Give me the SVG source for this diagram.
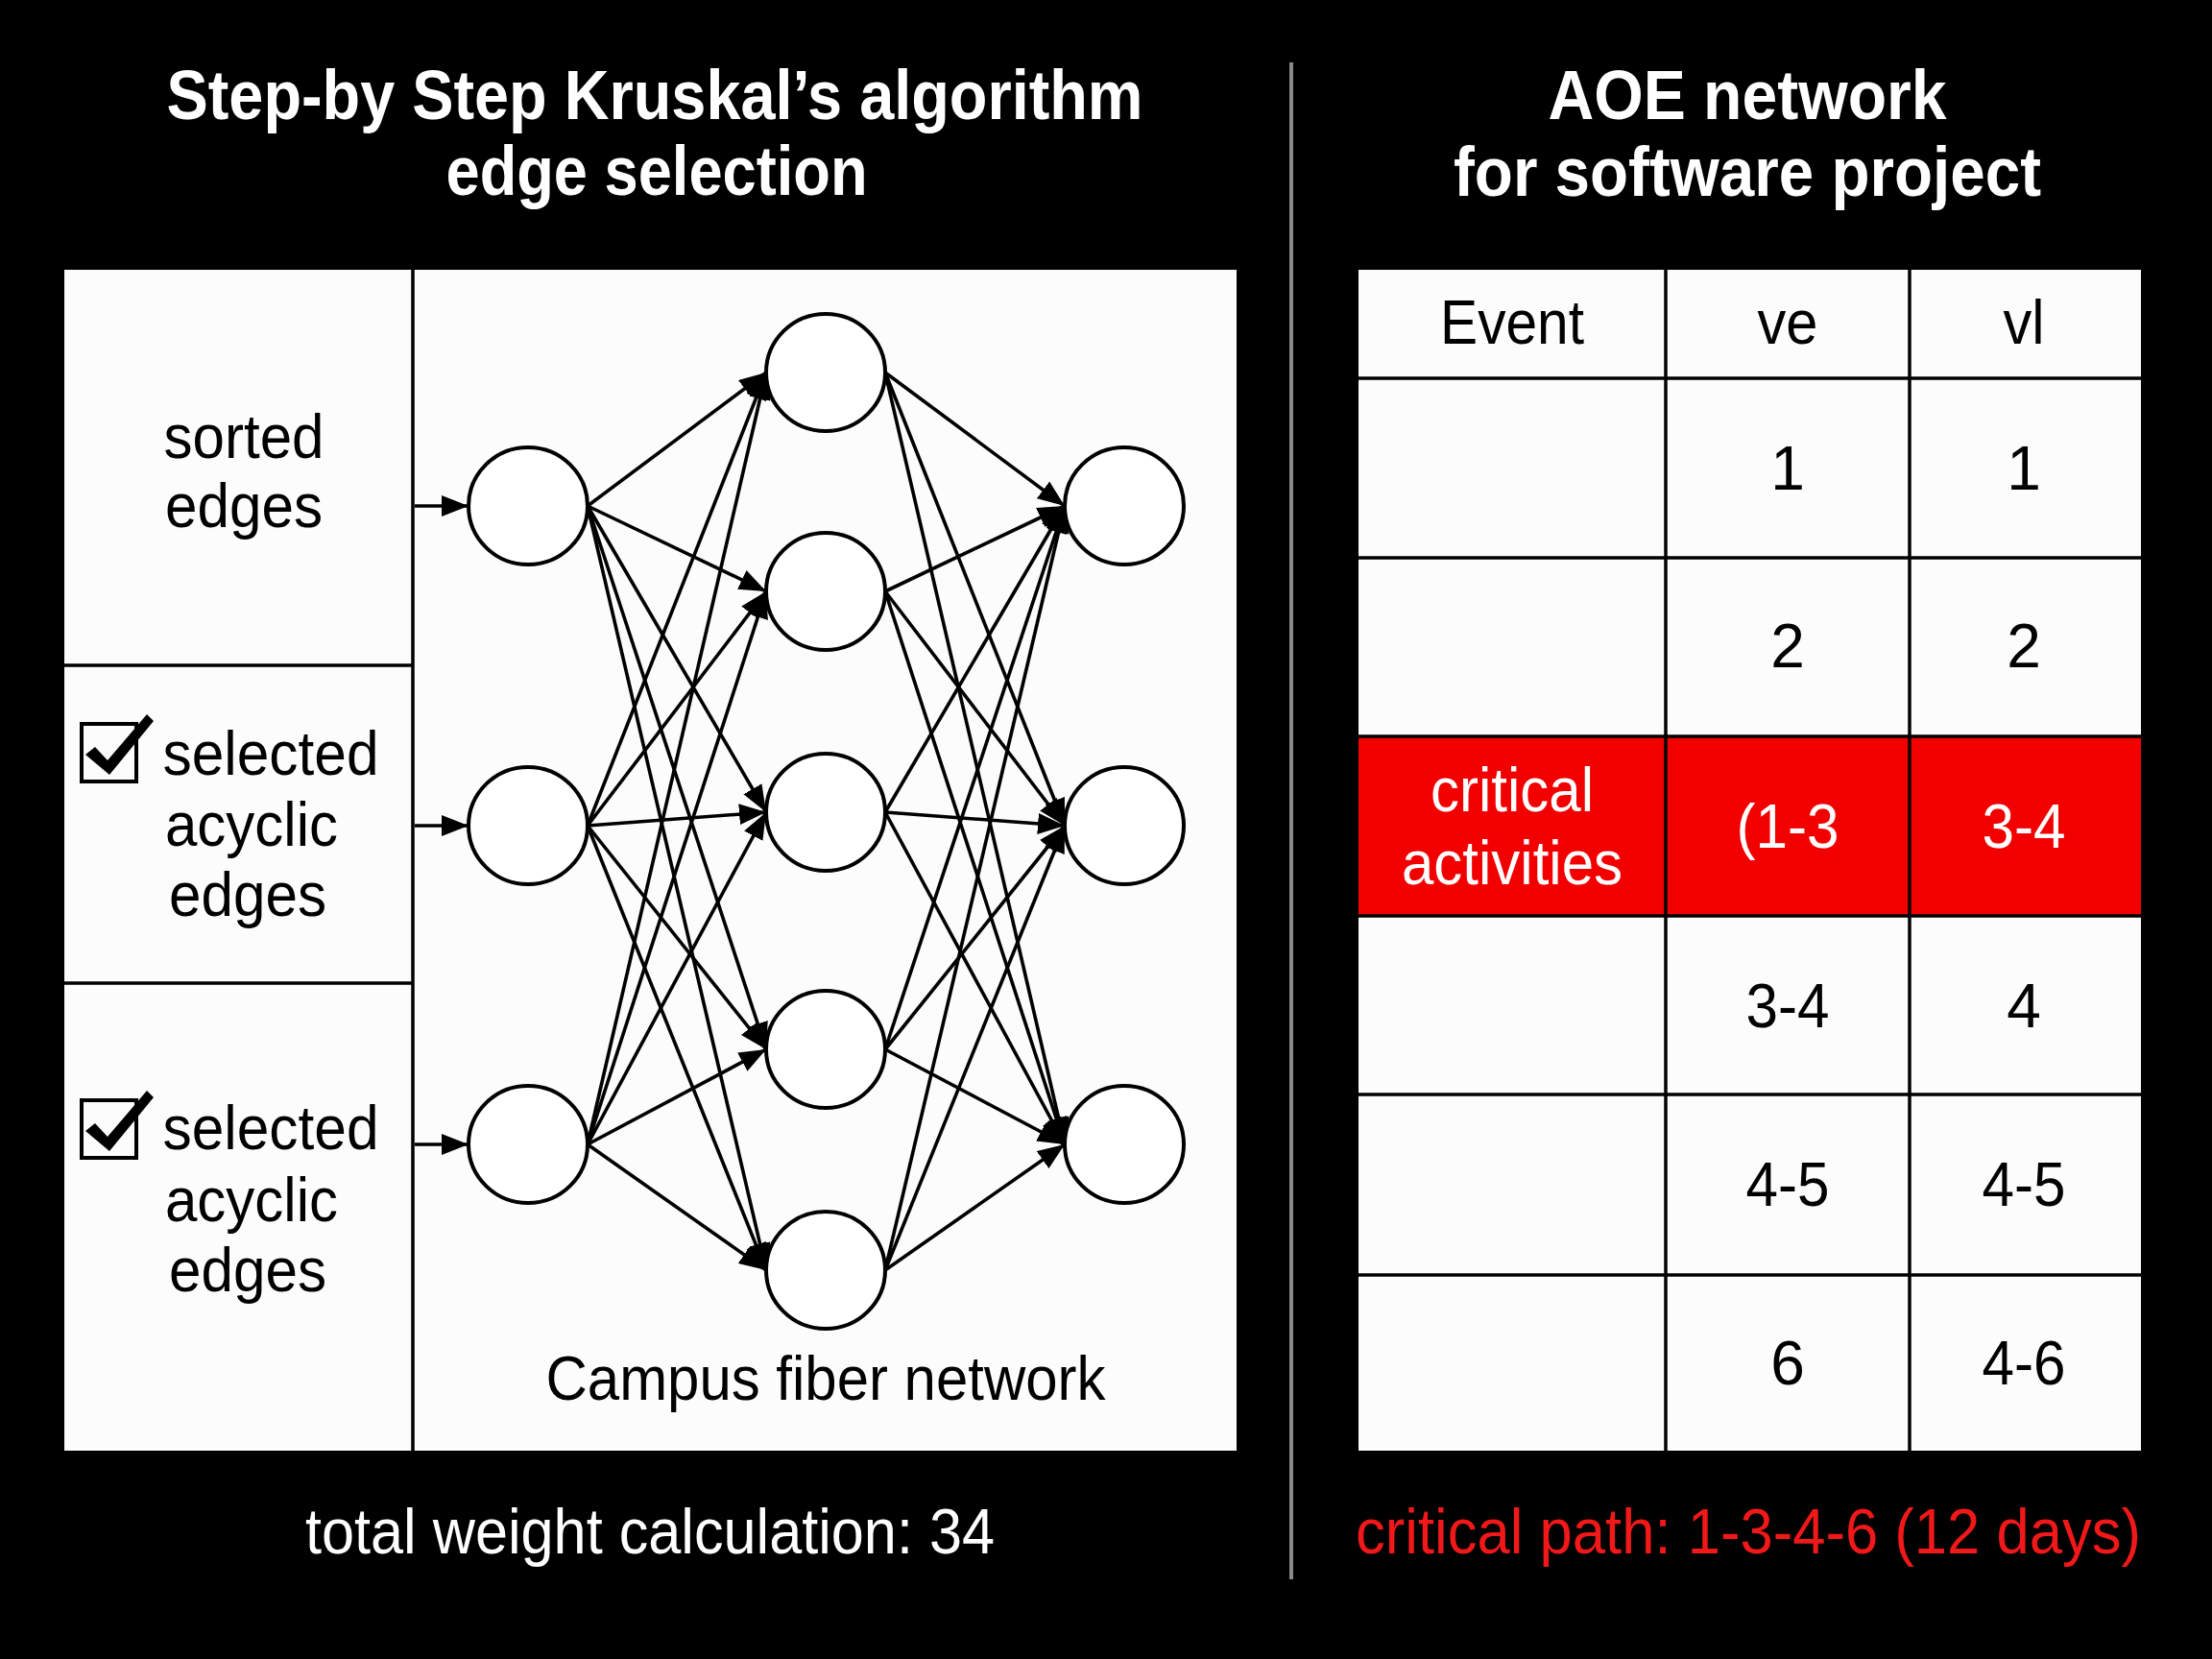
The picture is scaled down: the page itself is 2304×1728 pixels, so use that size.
<svg xmlns="http://www.w3.org/2000/svg" width="2304" height="1728" viewBox="0 0 2304 1728">
<defs>
<style>
.t{font-family:"Liberation Sans",Arial,Helvetica,sans-serif;font-size:64px;fill:#000;text-anchor:middle}
.title{font-weight:bold;font-size:72px;fill:#fff}
.wt{fill:#fff}
.bot{font-size:66px}
.rd{fill:#f01818}
.grid{stroke:#000;stroke-width:3.5;fill:none}
.node{fill:#fff;stroke:#000;stroke-width:4}
.edge{stroke:#000;stroke-width:3.6;fill:none;marker-end:url(#arr)}
</style>
<marker id="arr" markerUnits="userSpaceOnUse" markerWidth="28" markerHeight="22" refX="28" refY="11" orient="auto" viewBox="0 0 28 22">
<path d="M0,0 L28,11 L0,22 Z" fill="#000"/>
</marker>
</defs>
<rect x="0" y="0" width="2304" height="1728" fill="#000"/>

<g id="titles">
<text class="t title" x="682" y="124" textLength="1017" lengthAdjust="spacingAndGlyphs">Step-by Step Kruskal’s algorithm</text>
<text class="t title" x="684" y="203" textLength="439" lengthAdjust="spacingAndGlyphs">edge selection</text>
<text class="t title" x="1820" y="124" textLength="415" lengthAdjust="spacingAndGlyphs">AOE network</text>
<text class="t title" x="1820" y="204" textLength="612" lengthAdjust="spacingAndGlyphs">for software project</text>
</g>

<line id="divider" x1="1345" y1="65" x2="1345" y2="1645" stroke="#8a8a8a" stroke-width="4"/>

<g id="left-panel">
<rect x="67" y="281" width="1221" height="1230" fill="#fcfcfc"/>
<line class="grid" x1="430" y1="281" x2="430" y2="1511"/>
<line class="grid" x1="67" y1="693" x2="430" y2="693"/>
<line class="grid" x1="67" y1="1024" x2="430" y2="1024"/>
</g>

<g id="label-sorted">
<text class="t" x="254" y="477" textLength="167" lengthAdjust="spacingAndGlyphs">sorted</text>
<text class="t" x="254" y="549" textLength="164" lengthAdjust="spacingAndGlyphs">edges</text>
</g>

<g id="label-selected-1">
<rect x="85" y="754" width="57" height="60" fill="none" stroke="#000" stroke-width="4"/>
<path d="M89 786 L99 778 L112 792 L153 744 L160 751 L114 807 Z" fill="#000"/>
<text class="t" x="282" y="807" textLength="225" lengthAdjust="spacingAndGlyphs">selected</text>
<text class="t" x="262" y="881" textLength="180" lengthAdjust="spacingAndGlyphs">acyclic</text>
<text class="t" x="258" y="954" textLength="164" lengthAdjust="spacingAndGlyphs">edges</text>
</g>

<g id="label-selected-2">
<rect x="85" y="1146" width="57" height="60" fill="none" stroke="#000" stroke-width="4"/>
<path d="M89 1178 L99 1170 L112 1184 L153 1136 L160 1143 L114 1199 Z" fill="#000"/>
<text class="t" x="282" y="1197" textLength="225" lengthAdjust="spacingAndGlyphs">selected</text>
<text class="t" x="262" y="1272" textLength="180" lengthAdjust="spacingAndGlyphs">acyclic</text>
<text class="t" x="258" y="1345" textLength="164" lengthAdjust="spacingAndGlyphs">edges</text>
</g>

<g id="connectors">
<line class="edge" x1="432" y1="527" x2="488" y2="527"/>
<line class="edge" x1="432" y1="860" x2="488" y2="860"/>
<line class="edge" x1="432" y1="1192" x2="488" y2="1192"/>

<line class="edge" x1="612" y1="527" x2="798" y2="388"/>
<line class="edge" x1="612" y1="527" x2="798" y2="616"/>
<line class="edge" x1="612" y1="527" x2="798" y2="846"/>
<line class="edge" x1="612" y1="527" x2="798" y2="1093"/>
<line class="edge" x1="612" y1="527" x2="798" y2="1323"/>
<line class="edge" x1="612" y1="860" x2="798" y2="388"/>
<line class="edge" x1="612" y1="860" x2="798" y2="616"/>
<line class="edge" x1="612" y1="860" x2="798" y2="846"/>
<line class="edge" x1="612" y1="860" x2="798" y2="1093"/>
<line class="edge" x1="612" y1="860" x2="798" y2="1323"/>
<line class="edge" x1="612" y1="1192" x2="798" y2="388"/>
<line class="edge" x1="612" y1="1192" x2="798" y2="616"/>
<line class="edge" x1="612" y1="1192" x2="798" y2="846"/>
<line class="edge" x1="612" y1="1192" x2="798" y2="1093"/>
<line class="edge" x1="612" y1="1192" x2="798" y2="1323"/>

<line class="edge" x1="922" y1="388" x2="1109" y2="527"/>
<line class="edge" x1="922" y1="388" x2="1109" y2="860"/>
<line class="edge" x1="922" y1="388" x2="1109" y2="1192"/>
<line class="edge" x1="922" y1="616" x2="1109" y2="527"/>
<line class="edge" x1="922" y1="616" x2="1109" y2="860"/>
<line class="edge" x1="922" y1="616" x2="1109" y2="1192"/>
<line class="edge" x1="922" y1="846" x2="1109" y2="527"/>
<line class="edge" x1="922" y1="846" x2="1109" y2="860"/>
<line class="edge" x1="922" y1="846" x2="1109" y2="1192"/>
<line class="edge" x1="922" y1="1093" x2="1109" y2="527"/>
<line class="edge" x1="922" y1="1093" x2="1109" y2="860"/>
<line class="edge" x1="922" y1="1093" x2="1109" y2="1192"/>
<line class="edge" x1="922" y1="1323" x2="1109" y2="527"/>
<line class="edge" x1="922" y1="1323" x2="1109" y2="860"/>
<line class="edge" x1="922" y1="1323" x2="1109" y2="1192"/>
</g>

<g id="n1-1"><ellipse class="node" cx="550" cy="527" rx="62" ry="61"/></g>
<g id="n1-2"><ellipse class="node" cx="550" cy="860" rx="62" ry="61"/></g>
<g id="n1-3"><ellipse class="node" cx="550" cy="1192" rx="62" ry="61"/></g>
<g id="n2-1"><ellipse class="node" cx="860" cy="388" rx="62" ry="61"/></g>
<g id="n2-2"><ellipse class="node" cx="860" cy="616" rx="62" ry="61"/></g>
<g id="n2-3"><ellipse class="node" cx="860" cy="846" rx="62" ry="61"/></g>
<g id="n2-4"><ellipse class="node" cx="860" cy="1093" rx="62" ry="61"/></g>
<g id="n2-5"><ellipse class="node" cx="860" cy="1323" rx="62" ry="61"/></g>
<g id="n3-1"><ellipse class="node" cx="1171" cy="527" rx="62" ry="61"/></g>
<g id="n3-2"><ellipse class="node" cx="1171" cy="860" rx="62" ry="61"/></g>
<g id="n3-3"><ellipse class="node" cx="1171" cy="1192" rx="62" ry="61"/></g>

<text id="network-label" class="t" x="860" y="1458" textLength="583" lengthAdjust="spacingAndGlyphs">Campus fiber network</text>

<g id="aoe-table">
<rect x="1415" y="281" width="815" height="1230" fill="#fcfcfc"/>
<rect x="1415" y="767" width="815" height="187" fill="#f20000"/>
<line class="grid" x1="1415" y1="394" x2="2230" y2="394"/>
<line class="grid" x1="1415" y1="581" x2="2230" y2="581"/>
<line class="grid" x1="1415" y1="767" x2="2230" y2="767"/>
<line class="grid" x1="1415" y1="954" x2="2230" y2="954"/>
<line class="grid" x1="1415" y1="1140" x2="2230" y2="1140"/>
<line class="grid" x1="1415" y1="1328" x2="2230" y2="1328"/>
<line class="grid" x1="1735" y1="281" x2="1735" y2="1511"/>
<line class="grid" x1="1989" y1="281" x2="1989" y2="1511"/>

<text class="t" x="1575" y="358" textLength="150" lengthAdjust="spacingAndGlyphs">Event</text>
<text class="t" x="1862" y="358" textLength="63" lengthAdjust="spacingAndGlyphs">ve</text>
<text class="t" x="2108" y="358" textLength="43" lengthAdjust="spacingAndGlyphs">vl</text>

<text class="t" x="1862" y="510">1</text>
<text class="t" x="2108" y="510">1</text>
<text class="t" x="1862" y="695">2</text>
<text class="t" x="2108" y="695">2</text>

<text class="t wt" x="1575" y="845" textLength="170" lengthAdjust="spacingAndGlyphs">critical</text>
<text class="t wt" x="1575" y="921" textLength="230" lengthAdjust="spacingAndGlyphs">activities</text>
<text class="t wt" x="1862" y="883" textLength="107" lengthAdjust="spacingAndGlyphs">(1-3</text>
<text class="t wt" x="2108" y="883" textLength="87" lengthAdjust="spacingAndGlyphs">3-4</text>

<text class="t" x="1862" y="1070" textLength="87" lengthAdjust="spacingAndGlyphs">3-4</text>
<text class="t" x="2108" y="1070">4</text>
<text class="t" x="1862" y="1256" textLength="87" lengthAdjust="spacingAndGlyphs">4-5</text>
<text class="t" x="2108" y="1256" textLength="87" lengthAdjust="spacingAndGlyphs">4-5</text>
<text class="t" x="1862" y="1442">6</text>
<text class="t" x="2108" y="1442" textLength="87" lengthAdjust="spacingAndGlyphs">4-6</text>
</g>

<g id="footer">
<text class="t bot wt" x="677" y="1618" textLength="718" lengthAdjust="spacingAndGlyphs">total weight calculation: 34</text>
<text class="t bot rd" x="1821" y="1618" textLength="818" lengthAdjust="spacingAndGlyphs">critical path: 1-3-4-6 (12 days)</text>
</g>
</svg>
